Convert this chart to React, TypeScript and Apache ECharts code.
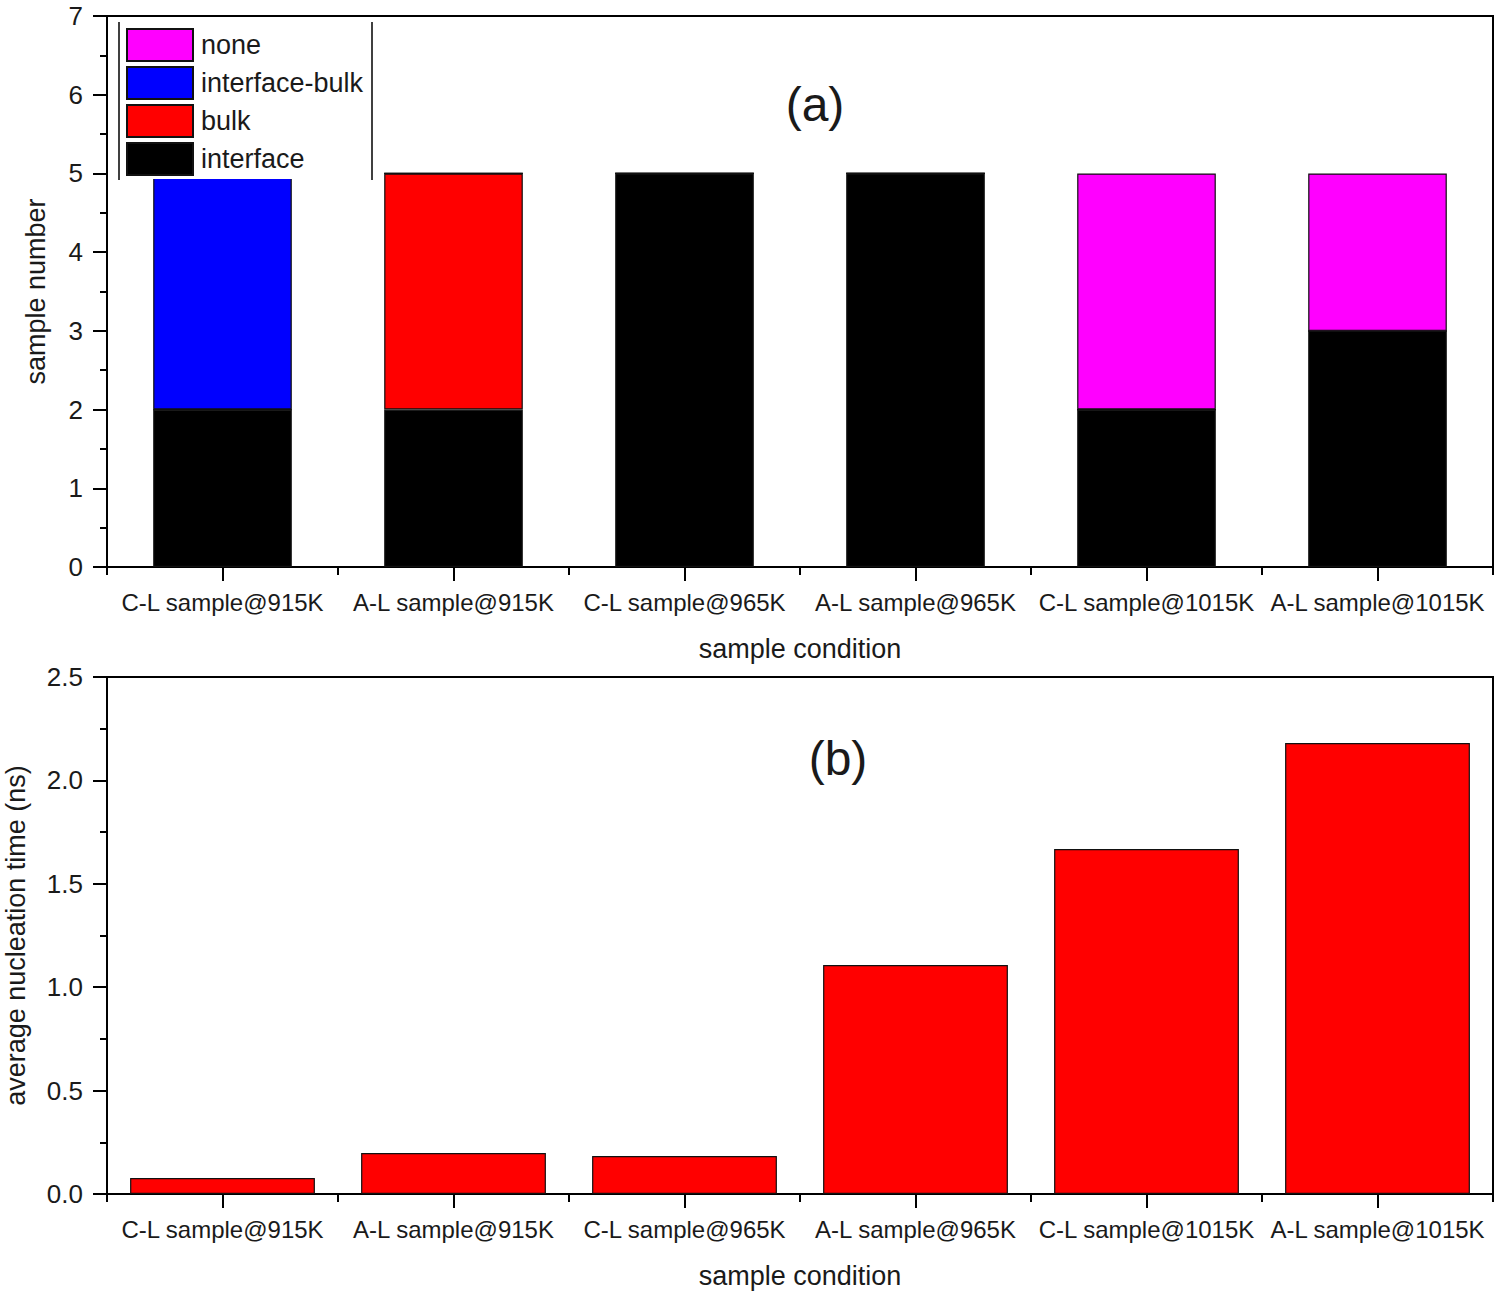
import React, { useEffect, useRef } from "react";
import * as echarts from "echarts";

// Sample conditions shared by both panels
const conditions = [
  "C-L sample@915K",
  "A-L sample@915K",
  "C-L sample@965K",
  "A-L sample@965K",
  "C-L sample@1015K",
  "A-L sample@1015K",
];

// Panel (a): number of samples by nucleation site (stacked)
const interfaceCounts = [2, 2, 5, 5, 2, 3];
const bulkCounts = [0, 3, 0, 0, 0, 0];
const interfaceBulkCounts = [3, 0, 0, 0, 0, 0];
const noneCounts = [0, 0, 0, 0, 3, 2];

// Panel (b): average nucleation time (ns)
const nucleationTime = [0.077, 0.198, 0.184, 1.107, 1.668, 2.181];

const FONT = "'Liberation Sans', Arial, sans-serif";
const TEXT = "#1a1a1a";

export default function App() {
  const ref = useRef<HTMLDivElement>(null);

  useEffect(() => {
    if (!ref.current) return;
    const chart = echarts.init(ref.current, null, { renderer: "svg" });

    const yAxisBase = (
      gridIndex: number,
      max: number,
      interval: number,
      name: string,
      nameGap: number,
      fmt?: (v: number) => string
    ) => ({
      type: "value",
      gridIndex,
      min: 0,
      max,
      interval,
      name,
      nameLocation: "middle",
      nameGap,
      nameTextStyle: { fontFamily: FONT, fontSize: 27, color: TEXT },
      axisLine: { show: true, lineStyle: { color: "#000", width: 2 } },
      axisTick: { show: true, inside: false, length: 14, lineStyle: { color: "#000", width: 2 } },
      minorTick: { show: true, splitNumber: 2, length: 7, lineStyle: { color: "#000", width: 2 } },
      splitLine: { show: false },
      axisLabel: {
        fontFamily: FONT,
        fontSize: 26,
        color: TEXT,
        margin: 24,
        formatter: fmt,
      },
    });

    const xAxisMain = (gridIndex: number) => ({
      type: "category",
      gridIndex,
      data: conditions,
      position: "bottom",
      offset: 0,
      name: "sample condition",
      nameLocation: "middle",
      nameGap: 68,
      nameTextStyle: { fontFamily: FONT, fontSize: 27, color: TEXT },
      axisLine: { show: true, lineStyle: { color: "#000", width: 2 } },
      axisTick: { show: true, alignWithLabel: true, length: 14, lineStyle: { color: "#000", width: 2 } },
      axisLabel: { fontFamily: FONT, fontSize: 24, color: TEXT, margin: 23, interval: 0 },
      splitLine: { show: false },
    });

    // Boundary ticks between categories, overlaid on the main axis
    const xAxisBoundary = (gridIndex: number) => ({
      type: "category",
      gridIndex,
      data: conditions,
      position: "bottom",
      offset: 0,
      axisLine: { show: false },
      axisTick: { show: true, alignWithLabel: false, length: 8, lineStyle: { color: "#000", width: 2 } },
      axisLabel: { show: false },
      splitLine: { show: false },
    });

    const barBorder = { borderColor: "#111", borderWidth: 1.2 };

    const stacked = (name: string, data: number[], color: string) => ({
      name,
      type: "bar",
      stack: "sites",
      xAxisIndex: 0,
      yAxisIndex: 0,
      data,
      barWidth: "60%",
      itemStyle: { color, ...barBorder },
    });

    const gridBase = {
      left: 107,
      width: 1386,
      show: true,
      borderColor: "#000",
      borderWidth: 2,
      backgroundColor: "transparent",
      containLabel: false,
      outerBoundsMode: "none",
    };

    chart.setOption({
      animation: false,
      backgroundColor: "#fff",
      grid: [
        { ...gridBase, top: 16, height: 551 },
        { ...gridBase, top: 677, height: 517 },
      ],
      xAxis: [xAxisMain(0), xAxisBoundary(0), xAxisMain(1), xAxisBoundary(1)],
      yAxis: [
        yAxisBase(0, 7, 1, "sample number", 58),
        yAxisBase(1, 2.5, 0.5, "average nucleation time (ns)", 78, (v: number) => v.toFixed(1)),
      ],
      legend: {
        data: ["none", "interface-bulk", "bulk", "interface"],
        orient: "vertical",
        left: 120,
        top: 23,
        padding: [5, 8, 3, 6],
        itemWidth: 66,
        itemHeight: 32,
        itemGap: 4,
        backgroundColor: "#fff",
        icon: "rect",
        selectedMode: false,
        textStyle: { fontFamily: FONT, fontSize: 27, lineHeight: 30, color: TEXT, padding: [0, 0, 0, 3] },
        z: 10,
      },
      series: [
        stacked("interface", interfaceCounts, "#000000"),
        stacked("bulk", bulkCounts, "#ff0000"),
        stacked("interface-bulk", interfaceBulkCounts, "#0000ff"),
        stacked("none", noneCounts, "#ff00ff"),
        {
          name: "average nucleation time",
          type: "bar",
          xAxisIndex: 2,
          yAxisIndex: 1,
          data: nucleationTime,
          barWidth: "80%",
          itemStyle: { color: "#ff0000", ...barBorder },
        },
      ],
      graphic: [
        { type: "line", z: 20, shape: { x1: 119, y1: 22, x2: 119, y2: 180 }, style: { stroke: "#000", lineWidth: 1.5 } },
        { type: "line", z: 20, shape: { x1: 372, y1: 22, x2: 372, y2: 180 }, style: { stroke: "#000", lineWidth: 1.5 } },
        {
          type: "text",
          z: 20,
          x: 815,
          y: 104,
          style: { text: "(a)", fontFamily: FONT, fontSize: 48, fill: TEXT, align: "center", verticalAlign: "middle" },
        },
        {
          type: "text",
          z: 20,
          x: 838,
          y: 758,
          style: { text: "(b)", fontFamily: FONT, fontSize: 48, fill: TEXT, align: "center", verticalAlign: "middle" },
        },
      ],
    });

    return () => chart.dispose();
  }, []);

  return (
    <div
      ref={ref}
      style={{ position: "fixed", left: 0, top: 0, width: 1500, height: 1292, background: "#fff" }}
    />
  );
}
